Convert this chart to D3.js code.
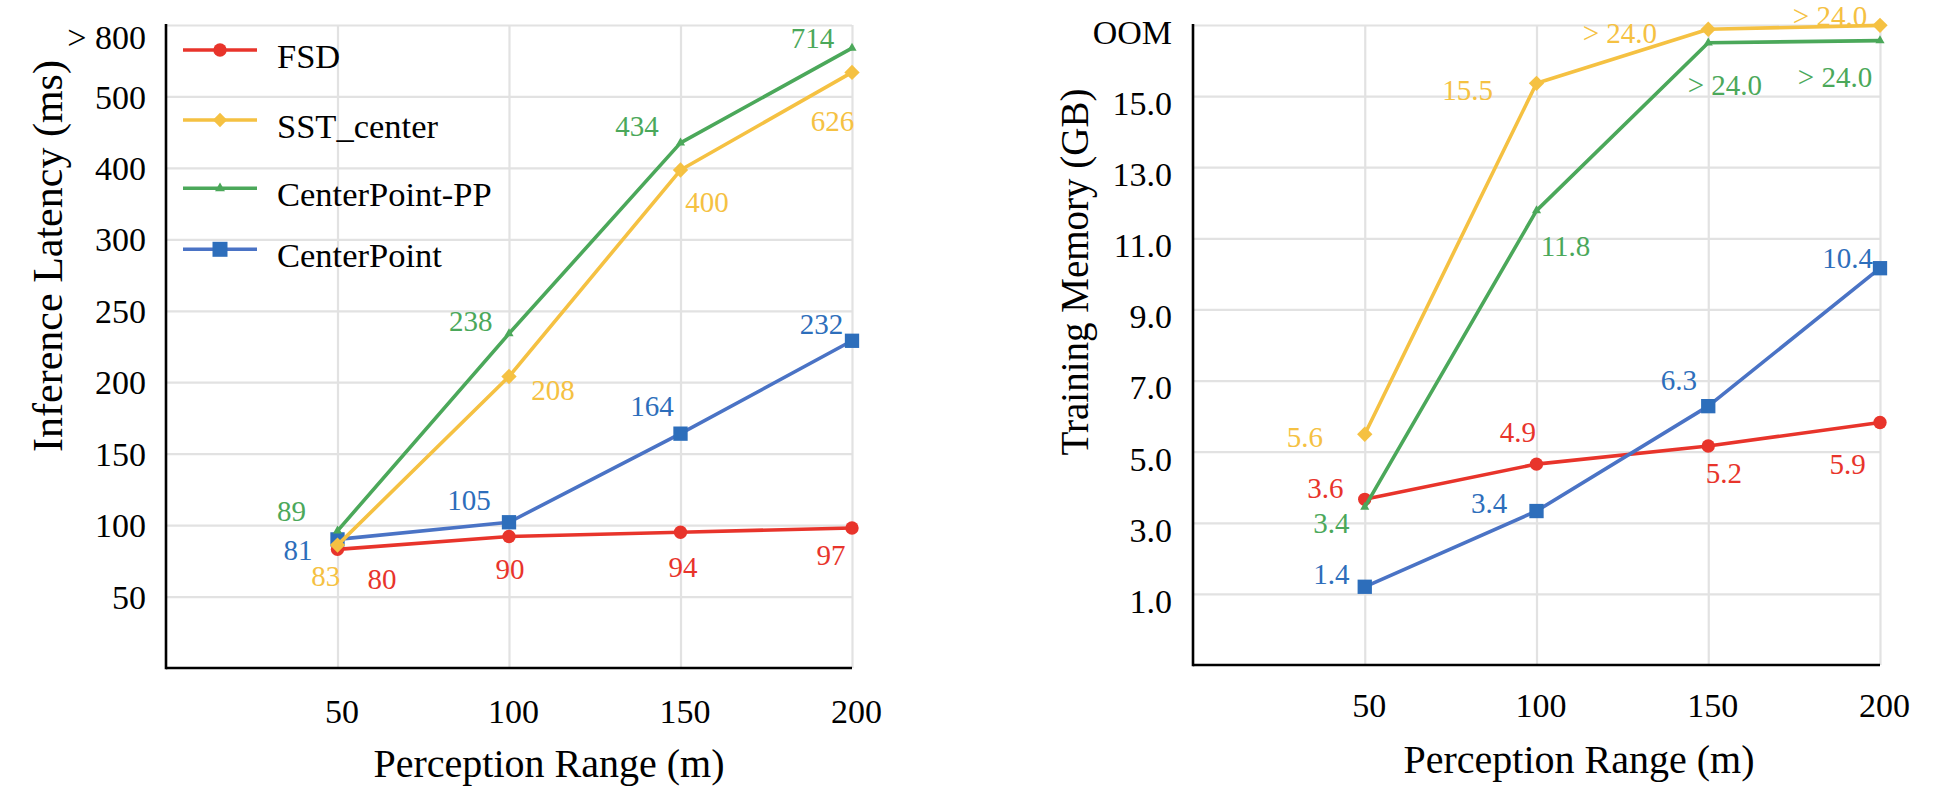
<!DOCTYPE html>
<html><head><meta charset="utf-8">
<script src="https://cdn.jsdelivr.net/npm/d3@7"></script>
<style>
html,body{margin:0;padding:0;background:#fff;}
svg{display:block;font-family:"Liberation Serif","Times New Roman",serif;}
</style></head><body>
<svg id="chart" width="1946" height="812"></svg>
<script>
// ---------------- DATA ----------------
const ranges = [50, 100, 150, 200];
const seriesNames = ["FSD", "SST_center", "CenterPoint-PP", "CenterPoint"];

// Left chart: inference latency (ms), plotted positions
const latencyFSD = [83, 92, 95, 98];
const latencySST = [86, 204, 397, 601];
const latencyPP  = [96, 234, 435, 703];
const latencyCP  = [90, 102, 164, 229];
// value labels as printed
const latencyLabelFSD = ["80", "90", "94", "97"];
const latencyLabelSST = ["83", "208", "400", "626"];
const latencyLabelPP  = ["89", "238", "434", "714"];
const latencyLabelCP  = ["81", "105", "164", "232"];
// y axis (break axis with evenly spaced stops)
const latencyScaleStops = [0, 50, 100, 150, 200, 250, 300, 400, 500, 800];
const latencyTicks = [50, 100, 150, 200, 250, 300, 400, 500, 800];
const latencyTickLabels = ["50", "100", "150", "200", "250", "300", "400", "500", "> 800"];

// Right chart: training memory (GB), plotted positions
const memoryFSD = [3.66, 4.65, 5.16, 5.82];
const memorySST = [5.49, 15.36, 16.88, 16.99];
const memoryPP  = [3.44, 11.78, 16.5, 16.56];
const memoryCP  = [1.2, 3.33, 6.28, 10.16];
const memoryLabelFSD = ["3.6", "4.9", "5.2", "5.9"];
const memoryLabelSST = ["5.6", "15.5", "> 24.0", "> 24.0"];
const memoryLabelPP  = ["3.4", "11.8", "> 24.0", "> 24.0"];
const memoryLabelCP  = ["1.4", "3.4", "6.3", "10.4"];
const memoryTicks = [1, 3, 5, 7, 9, 11, 13, 15, 17];
const memoryTickLabels = ["1.0", "3.0", "5.0", "7.0", "9.0", "11.0", "13.0", "15.0", "OOM"];

// ---------------- STYLE / LAYOUT ----------------
const FONT = "'Liberation Serif', 'Times New Roman', serif";
const colors = {
  FSD: {line: "#E8342B", mark: "#E8342B", text: "#E8342B"},
  SST: {line: "#F5C142", mark: "#F5C142", text: "#F5C142"},
  PP:  {line: "#4BA85A", mark: "#4BA85A", text: "#4BA85A"},
  CP:  {line: "#4A73C5", mark: "#2D6EBB", text: "#2D6EBB"}
};
const markerKind = {FSD: "circle", SST: "diamond", PP: "triangle", CP: "square"};

// label offsets (px) relative to each point
const latencyOffsets = {
  FSD: [[44.6, 30], [1, 32.4], [2.6, 34.4], [-21, 26.7]],
  SST: [[-11.7, 31], [44, 14], [26.6, 32.4], [-19.6, 49]],
  PP:  [[-46, -19.3], [-38.3, -12.3], [-43.4, -16.4], [-39.6, -10]],
  CP:  [[-39.4, 10.7], [-40, -22.6], [-28.4, -27.4], [-30.6, -16.6]]
};
const memoryOffsets = {
  FSD: [[-39.3, -10.7], [-18.7, -32.3], [15.7, 27.6], [-32.3, 41.7]],
  SST: [[-60, 2.4], [-69, 6.7], [-88.3, 3.7], [-50, -9.5]],
  PP:  [[-33.3, 16.3], [29, 36], [16.7, 42.3], [-45, 36]],
  CP:  [[-33.3, -12.7], [-47.4, -7.7], [-29.3, -26], [-32.3, -10]]
};

const svg = d3.select("#chart");
svg.append("rect").attr("width", 1946).attr("height", 812).attr("fill", "#fff");

function symbolPath(kind, legend) {
  const sizes = legend
    ? {circle: 140, square: 225, diamond: 130, triangle: 70}
    : {circle: 140, square: 205, diamond: 150, triangle: 60};
  const t = {circle: d3.symbolCircle, square: d3.symbolSquare, diamond: d3.symbolDiamond2, triangle: d3.symbolTriangle2}[kind];
  return d3.symbol().type(t).size(sizes[kind])();
}

function drawChart(cfg) {
  const g = svg.append("g").attr("font-family", FONT);
  const x = d3.scaleLinear().domain([0, 200]).range([cfg.left, cfg.right]);
  const y = cfg.y;
  const top = cfg.top, bottom = cfg.bottom;

  // gridlines horizontal
  g.append("g").attr("transform", `translate(${cfg.left},0)`)
    .call(d3.axisLeft(y).tickValues(cfg.ticks).tickSize(-(cfg.right - cfg.left)).tickFormat(""))
    .call(s => s.select(".domain").remove())
    .call(s => s.selectAll("line").attr("stroke", "#e2e2e2").attr("stroke-width", 2.2));
  // gridlines vertical
  g.append("g").attr("transform", `translate(0,${bottom})`)
    .call(d3.axisBottom(x).tickValues(ranges).tickSize(-(bottom - top)).tickFormat(""))
    .call(s => s.select(".domain").remove())
    .call(s => s.selectAll("line").attr("stroke", "#e2e2e2").attr("stroke-width", 2.2));

  // axis lines
  g.append("line").attr("x1", cfg.left).attr("x2", cfg.left).attr("y1", top - 1).attr("y2", bottom + 1.2)
    .attr("stroke", "#000").attr("stroke-width", 2.6);
  g.append("line").attr("x1", cfg.left).attr("x2", cfg.right).attr("y1", bottom).attr("y2", bottom)
    .attr("stroke", "#000").attr("stroke-width", 2.6);

  // y tick labels
  const ya = g.append("g").attr("transform", `translate(${cfg.left},0)`)
    .call(d3.axisLeft(y).tickValues(cfg.ticks).tickSize(0).tickPadding(cfg.yPad)
      .tickFormat((d, i) => cfg.tickLabels[i]));
  ya.attr("font-family", FONT);
  ya.select(".domain").remove();
  ya.selectAll("text").attr("font-size", 34).attr("font-family", FONT)
    .attr("fill", "#000").attr("dy", d => cfg.tickDy(d));

  // x tick labels
  const xa = g.append("g").attr("transform", `translate(0,${bottom})`)
    .call(d3.axisBottom(x).tickValues(ranges).tickSize(0).tickPadding(cfg.xPad));
  xa.attr("font-family", FONT);
  xa.select(".domain").remove();
  xa.selectAll("text").attr("font-size", 34).attr("font-family", FONT)
    .attr("fill", "#000").attr("dx", 4);

  // titles
  g.append("text").attr("x", cfg.xTitle[0]).attr("y", cfg.xTitle[1]).attr("text-anchor", "middle")
    .attr("font-family", FONT).attr("font-size", 40).attr("fill", "#000").text("Perception Range (m)");
  g.append("text").attr("transform", `translate(${cfg.yTitle[0]},${cfg.yTitle[1]}) rotate(-90)`)
    .attr("text-anchor", "middle").attr("font-family", FONT).attr("font-size", cfg.yTitleSize)
    .attr("fill", "#000").text(cfg.yTitleText);

  // series
  const line = d3.line().x((d, i) => x(ranges[i])).y(d => y(d));
  cfg.order.forEach(key => {
    const vals = cfg.series[key];
    const c = colors[key];
    g.append("path").datum(vals).attr("d", line).attr("fill", "none")
      .attr("stroke", c.line).attr("stroke-width", 3.6).attr("stroke-linejoin", "round");
    g.selectAll(null).data(vals).enter().append("path")
      .attr("d", symbolPath(markerKind[key], false))
      .attr("transform", (d, i) => `translate(${x(ranges[i])},${y(d)})`)
      .attr("fill", c.mark);
  });
  // labels
  cfg.order.forEach(key => {
    const vals = cfg.series[key];
    const c = colors[key];
    g.selectAll(null).data(vals).enter().append("text")
      .attr("x", (d, i) => x(ranges[i]) + cfg.offsets[key][i][0])
      .attr("y", (d, i) => y(d) + cfg.offsets[key][i][1])
      .attr("dy", "0.34em").attr("text-anchor", "middle")
      .attr("font-family", FONT).attr("font-size", 29).attr("fill", c.text)
      .text((d, i) => cfg.labels[key][i]);
  });
  return g;
}

// Left chart
const lTop = 25, lBottom = 668;
const yLat = d3.scaleLinear().domain(latencyScaleStops)
  .range(latencyScaleStops.map((d, i) => lBottom - i * (lBottom - lTop) / (latencyScaleStops.length - 1)));
drawChart({
  left: 166, right: 852, top: lTop, bottom: lBottom, y: yLat,
  ticks: latencyTicks, tickLabels: latencyTickLabels,
  tickDy: d => d === 800 ? "0.68em" : "0.34em",
  yPad: 20, xPad: 31,
  xTitle: [549, 777], yTitle: [62, 256], yTitleSize: 42, yTitleText: "Inference Latency (ms)",
  series: {FSD: latencyFSD, SST: latencySST, PP: latencyPP, CP: latencyCP},
  labels: {FSD: latencyLabelFSD, SST: latencyLabelSST, PP: latencyLabelPP, CP: latencyLabelCP},
  offsets: latencyOffsets,
  order: ["FSD", "CP", "PP", "SST"]
});

// legend (left chart)
const legendKeys = ["FSD", "SST", "PP", "CP"];
const legendRows = [50, 120, 188.3, 249.3];
const lg = svg.append("g").attr("font-family", FONT);
legendKeys.forEach((k, i) => {
  const yy = legendRows[i];
  lg.append("line").attr("x1", 183).attr("x2", 257).attr("y1", yy).attr("y2", yy)
    .attr("stroke", colors[k].line).attr("stroke-width", 3.6);
  lg.append("path").attr("d", symbolPath(markerKind[k], true))
    .attr("transform", `translate(220,${yy})`).attr("fill", colors[k].mark);
  lg.append("text").attr("x", 277).attr("y", yy + 17.5).attr("font-family", FONT)
    .attr("font-size", 34.5).attr("fill", "#000").text(seriesNames[i]);
});

// Right chart
const rTop = 25, rBottom = 665;
const yMem = d3.scaleLinear().domain([-1, 17]).range([rBottom, rTop]);
drawChart({
  left: 1193, right: 1880, top: rTop, bottom: rBottom, y: yMem,
  ticks: memoryTicks, tickLabels: memoryTickLabels,
  tickDy: d => "0.54em",
  yPad: 21, xPad: 28,
  xTitle: [1579, 773], yTitle: [1088, 272], yTitleSize: 39, yTitleText: "Training Memory (GB)",
  series: {FSD: memoryFSD, SST: memorySST, PP: memoryPP, CP: memoryCP},
  labels: {FSD: memoryLabelFSD, SST: memoryLabelSST, PP: memoryLabelPP, CP: memoryLabelCP},
  offsets: memoryOffsets,
  order: ["FSD", "CP", "PP", "SST"]
});
</script>
</body></html>
